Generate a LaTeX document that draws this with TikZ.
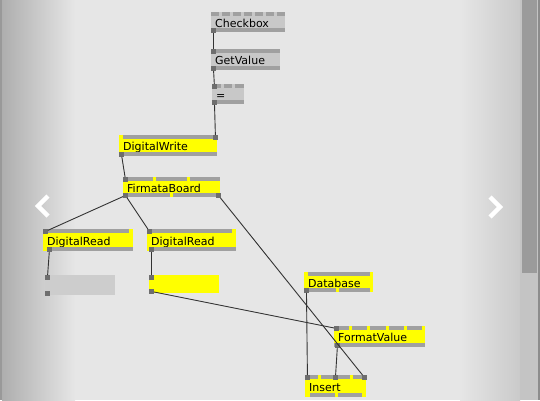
\documentclass[tikz,border=0pt]{standalone}
\usepackage{fontspec}
\newfontfamily\patchfont{DejaVu Sans}
\usetikzlibrary{calc}
\definecolor{canvas}{HTML}{E6E6E6}
\definecolor{ioyellow}{HTML}{FFFF00}
\definecolor{nodegray}{HTML}{C8C8C8}
\definecolor{boxgray}{HTML}{CDCDCD}
\definecolor{pinbar}{HTML}{A0A0A0}
\definecolor{pindark}{HTML}{6E6E6E}
\definecolor{edgegray}{HTML}{AEAEAE}
\definecolor{sidegray}{HTML}{CACACA}
\definecolor{trackgray}{HTML}{C4C4C4}
\definecolor{thumbgray}{HTML}{9B9B9B}

% row of pins: x, y, width, count
\newcommand{\pinrow}[4]{%
  \pgfmathsetmacro{\pinw}{(#3-(#4-1)*3)/#4}
  \foreach \k in {1,...,#4}{
    \fill[pinbar] ({#1+(\k-1)*(\pinw+3)},#2) rectangle ++(\pinw,4);
  }}

\begin{document}
\begin{tikzpicture}[x=1pt, y=-1pt,
    patch/.style={rectangle, anchor=north west, inner xsep=4pt, inner ysep=0pt,
                  align=left, text height=11pt, text depth=0.5pt,
                  font=\patchfont\fontsize{11}{13}\selectfont, text=black},
    grey node/.style={patch, fill=nodegray},
    yellow node/.style={patch, fill=ioyellow},
    iobox/.style={rectangle, anchor=north west, inner sep=0pt},
    pin/.style={rectangle, fill=pindark, minimum size=4.5pt, inner sep=0pt, anchor=north west},
    wire/.style={draw=black!80, line width=0.9pt},
    chevron/.style={draw=white, line width=4.5pt, miter limit=10}
]
\useasboundingbox (0,0) rectangle (540,400);

% Background and window frame
\fill[canvas] (0,0) rectangle (540,400);
\shade[left color=edgegray, right color=canvas] (2,0) rectangle (75,400);
\fill[black!40] (0,0) rectangle (2,400);
\shade[left color=canvas, right color=sidegray] (460,0) rectangle (520,400);
\fill[trackgray] (520,0) rectangle (538,400);
\fill[thumbgray] (522,0) rectangle (537,273);
\fill[black!45] (538,0) rectangle (540,400);
\draw[chevron] (48,196) -- (38,206) -- (48,216);
\draw[chevron] (490,197) -- (500,207) -- (490,217);

% Row 1: Checkbox, GetValue, =
\node[grey node, text width=66pt, minimum height=20pt] (checkbox) at (211,12) {Checkbox};
\pinrow{211}{12}{74}{7} \pinrow{211}{28}{74}{1}
\node[pin] (cbO) at (211,28) {};

\node[grey node, text width=61pt, minimum height=21pt] (getvalue) at (211,49) {GetValue};
\pinrow{211}{49}{69}{1} \pinrow{211}{66}{69}{1}
\node[pin] (gvI) at (211,49) {};
\node[pin] (gvO) at (211,66) {};

\node[grey node, text width=24pt, minimum height=20pt] (equal) at (212,84) {=};
\pinrow{212}{84}{32}{3} \pinrow{212}{100}{32}{1}
\node[pin] (eqI) at (212,84) {};
\node[pin] (eqO) at (212,100) {};

% Row 2: DigitalWrite, FirmataBoard
\node[yellow node, text width=90pt, minimum height=21pt] (digitalwrite) at (119,135) {DigitalWrite};
\pinrow{123}{135}{94}{1} \pinrow{119}{152}{98}{1}
\node[pin] (dwI) at (213,135) {};
\node[pin] (dwO) at (119,152) {};

\node[yellow node, text width=89pt, minimum height=20pt] (firmata) at (123,177) {FirmataBoard};
\pinrow{123}{177}{97}{3} \pinrow{123}{193}{97}{2}
\node[pin] (fbI) at (123,177) {};
\node[pin] (fbO1) at (123,193) {};
\node[pin] (fbO2) at (216,193) {};

% Row 3: DigitalRead and IO boxes
\node[yellow node, text width=82pt, minimum height=22pt] (readA) at (43,229) {DigitalRead};
\pinrow{43}{229}{86}{1} \pinrow{47}{247}{86}{1}
\node[pin] (drAI) at (43,229) {};
\node[pin] (drAO) at (47,247) {};

\node[yellow node, text width=81pt, minimum height=22pt] (readB) at (147,229) {DigitalRead};
\pinrow{147}{229}{85}{1} \pinrow{149}{247}{87}{1}
\node[pin] (drBI) at (147,229) {};
\node[pin] (drBO) at (149,247) {};

\node[iobox, fill=boxgray, minimum width=70pt, minimum height=20pt] (ioA) at (45,275) {};
\node[pin] (ioAI) at (45,275) {};
\node[pin] (ioAO) at (45,291) {};

\node[iobox, fill=ioyellow, minimum width=70pt, minimum height=18pt] (ioB) at (149,275) {};
\node[pin] (ioBI) at (149,275) {};
\node[pin] (ioBO) at (149,289) {};

% Row 4: Database, FormatValue, Insert
\node[yellow node, text width=61pt, minimum height=20pt] (database) at (304,272) {Database};
\pinrow{308}{272}{62}{1} \pinrow{304}{288}{66}{2}
\node[pin] (dbO) at (304,288) {};

\node[yellow node, text width=83pt, minimum height=21pt] (format) at (334,326) {FormatValue};
\pinrow{334}{326}{88}{5} \pinrow{334}{343}{91}{1}
\node[pin] (fvI) at (334,326) {};
\node[pin] (fvO) at (335,343) {};

\node[yellow node, text width=53pt, minimum height=22pt] (insert) at (305,375) {Insert};
\pinrow{305}{375}{61}{4} \pinrow{310}{393}{52}{2}
\node[pin] (inI1) at (305,375) {};
\node[pin] (inI3) at (333,375) {};
\node[pin] (inI4) at (362,375) {};

% Links
\draw[wire] (cbO) -- (gvI);
\draw[wire] (gvO) -- (eqI);
\draw[wire] (eqO) -- (dwI);
\draw[wire] (dwO) -- (fbI);
\draw[wire] (fbO1) -- (drAI);
\draw[wire] (fbO1) -- (drBI);
\draw[wire] (fbO2) -- (inI4);
\draw[wire] (drAO) -- (ioAI);
\draw[wire] (drBO) -- (ioBI);
\draw[wire] (ioBO) -- (fvI);
\draw[wire] (dbO) -- (inI1);
\draw[wire] (fvO) -- (inI3);

\end{tikzpicture}
\end{document}
